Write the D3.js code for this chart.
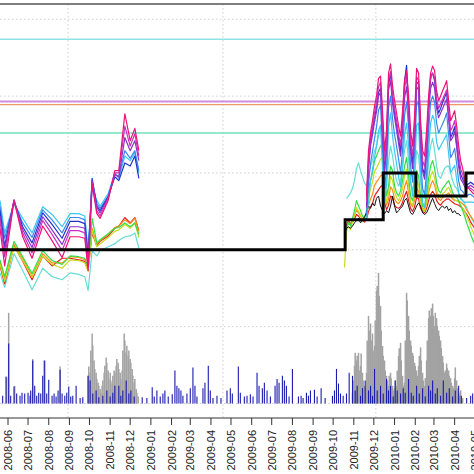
<!DOCTYPE html>
<html><head><meta charset="utf-8">
<script src="https://cdn.jsdelivr.net/npm/d3@7"></script>
<style>html,body{margin:0;padding:0;background:#fff;}svg{display:block;}</style>
</head><body>
<svg id="chart" width="474" height="474"></svg>
<script>
// ---------------- DATA ----------------
const startDay = "2008-05-20";           // day 0 for the precipitation bars
const monthTicks = ["2008-06","2008-07","2008-08","2008-09","2008-10","2008-11","2008-12",
  "2009-01","2009-02","2009-03","2009-04","2009-05","2009-06","2009-07","2009-08","2009-09",
  "2009-10","2009-11","2009-12","2010-01","2010-02","2010-03","2010-04","2010-05"];
const hGridVals = [0,100,200,300,400,500];
const vGridDates = ["2008-08-30","2009-04-19","2009-12-04"];

// constant reference levels
const refVals = [474, 393, 389, 352];

// observed step series
const stepDates = ["2008-05-01","2009-10-19","2009-12-15","2010-02-02","2010-04-18","2010-05-31"];
const stepVals  = [200, 239, 300, 270, 300, 300];

// period 1 (2008) sample dates
const dates1 = ["2008-05-20","2008-05-27","2008-06-10","2008-06-23","2008-07-07","2008-07-23",
  "2008-08-06","2008-08-21","2008-09-02","2008-09-15","2008-09-24","2008-09-29","2008-10-05",
  "2008-10-12","2008-10-17","2008-10-29","2008-11-08","2008-11-14","2008-11-23","2008-12-01",
  "2008-12-08","2008-12-14"];
// period 2 (2009-2010): every 3 days from this date, 67 samples
const dates2Start = "2009-10-15";
const dates2Step = 3;
const dates2Count = 67;

// --- period 1 values
const cyanP1    = [264,222,260,241,222,256,246,230,247,247,244,199,283,264,257,273,300,293,322,316,326,300];
const skyP1     = [257,215,261,235,216,252,239,222,242,242,239,194,290,260,254,270,298,295,329,319,329,303];
const blueP1    = [251,205,264,230,209,248,233,215,237,237,234,189,293,257,251,269,295,290,313,309,322,293];
const purpleP1  = [244,199,265,226,203,243,226,207,230,230,228,183,290,255,248,268,298,295,346,329,342,316];
const violetP1  = [238,191,265,222,196,238,220,199,225,225,222,178,287,251,244,267,300,300,361,335,351,322];
const magentaP1 = [228,179,264,217,189,231,212,190,217,217,215,173,285,247,241,264,303,303,377,342,358,329];
const greenP1   = [187,165,211,191,169,199,186,181,192,191,189,178,241,209,213,221,228,229,235,230,235,220];
const yellowP1  = [181,159,204,186,164,192,181,176,187,186,183,172,225,204,208,216,224,226,233,228,235,216];
const orangeP1  = [185,161,207,189,165,195,183,183,191,190,187,176,228,207,212,220,229,231,239,234,241,224];
const redP1     = [179,156,205,185,161,192,179,189,189,187,185,173,222,205,211,218,228,231,242,235,242,225];
const tealP1    = [170,151,195,173,148,176,165,161,170,168,165,147,199,192,199,204,208,212,217,218,222,202];

// --- period 2 values
const N12 = [null,null,null,null,null,null,null,null,null,null,null,null];
const magentaP2 = N12.concat([270,329,352,368,387,400,423,426,381,329,355,430,442,413,394,378,361,348,381,420,433,400,355,335,374,436,430,368,329,322,355,400,430,439,433,407,394,400,407,413,420,394,368,374,381,361,335,316,306,293,283,280,277,274,272]);
const violetP2  = N12.concat([262,318,345,360,378,392,412,418,368,316,345,420,432,402,384,368,350,336,370,410,425,390,342,322,362,425,420,356,316,308,342,390,422,430,424,396,384,390,396,402,408,382,355,360,368,348,322,305,298,287,281,281,280,278,276]);
const purpleP2  = N12.concat([255,305,335,350,366,380,400,405,352,300,332,408,420,390,372,356,338,322,356,398,412,378,328,306,348,412,408,342,302,292,328,378,410,418,410,384,372,378,384,390,396,370,342,346,354,334,308,292,288,282,280,282,284,282,280]);
const blueP2    = N12.concat([258,310,340,356,372,385,405,410,360,305,336,415,430,396,378,362,345,328,362,420,440,385,335,312,352,418,416,350,306,298,330,385,425,430,420,390,378,384,392,398,405,376,346,352,360,338,314,298,292,286,284,286,288,286,284]);
const skyP2     = N12.concat([245,285,312,328,345,360,382,388,330,280,305,385,400,370,350,335,318,300,330,375,392,360,310,288,325,390,392,320,280,272,300,355,392,400,392,365,352,358,364,370,378,350,320,325,332,312,290,278,276,272,270,272,272,270,268]);
const cyanP2    = N12.concat([240,262,290,305,320,335,355,362,305,262,285,360,378,348,328,312,295,282,305,350,365,335,290,270,300,362,365,298,262,255,280,330,365,375,368,340,330,335,340,345,350,325,300,305,310,292,275,266,264,262,262,262,262,262,261]);
const greenP2   = [null,222,228,235,231,241,251,264,257,251,244,241,251,277,290,300,316,322,329,335,338,290,270,283,309,303,283,274,270,277,290,309,320,296,270,264,277,303,296,270,257,255,270,293,309,316,306,287,277,274,280,283,287,290,283,274,270,268,264,257,251,244,235,228,220,213,208];
const yellowP2  = [null,177,224,230,226,236,245,255,250,245,240,238,246,268,280,288,302,306,312,318,320,278,262,274,296,290,275,268,264,270,280,296,305,284,262,258,270,290,285,262,252,250,262,282,296,302,294,278,270,268,273,275,279,281,276,268,265,264,262,258,254,250,244,238,231,224,218];
const orangeP2  = [null,226,230,236,232,238,244,252,248,244,240,239,244,258,266,272,284,288,292,296,298,270,258,266,282,278,266,262,260,264,270,282,290,274,260,256,264,280,276,260,254,252,260,274,284,290,284,272,266,264,268,270,272,274,270,266,264,264,263,262,260,257,252,248,244,240,236];
const redP2     = [null,228,232,238,234,236,240,246,244,240,238,236,240,250,256,260,270,274,278,282,284,262,252,258,270,268,258,255,254,256,262,270,276,264,254,250,256,268,266,254,250,248,254,264,272,276,272,264,260,258,262,264,266,266,264,262,260,259,258,256,254,250,246,242,236,232,228];
const tealP2    = [null,null,267,270,274,280,290,306,313,303,295,287,283,296,309,316,329,335,348,358,342,296,283,316,335,322,303,290,283,290,309,329,342,316,287,277,293,329,322,290,270,267,283,316,335,345,329,309,296,293,300,306,309,309,300,290,283,280,274,269,264,260,255,248,243,238,233];
const blackP2   = [null,222,228,230,228,231,235,238,241,235,238,243,248,257,254,261,257,267,270,257,251,247,251,248,257,270,257,248,251,254,257,264,267,257,248,246,251,257,261,257,248,246,248,254,261,267,260,254,251,255,257,254,257,251,254,248,251,247,247,244,null,null,null,null,null,null,null];

// --- daily precipitation bars: [day since startDay, amount]
const grayBars = [[10,34],[13,118],[22,23],[49,58],[66,56],[90,48],
 [132,36],[133,48],[135,40],[136,69],[138,91],[139,75],[141,56],[142,45],[144,40],[145,32],[147,27],[148,23],[150,19],[151,14],[153,23],[154,30],[156,40],[157,49],[159,60],[160,53],[162,43],[163,32],[165,40],[166,30],[168,26],[169,36],[171,43],[172,40],[174,49],[175,58],[177,53],[178,45],[180,40],[181,32],[183,43],[184,69],[186,91],[187,82],[189,66],[190,75],[192,62],[193,69],[195,58],[196,53],[198,45],[199,36],[201,27],[202,32],[204,19],[205,14],[207,9],
 [528,14],[529,30],[531,49],[532,66],[534,56],[535,62],[537,66],[538,43],[540,49],[541,65],[543,40],[544,30],[546,23],[547,20],[549,40],[550,82],[552,114],[553,95],[555,104],[556,82],[558,91],[559,69],[561,75],[562,108],[564,147],[565,153],[567,170],[568,140],[570,127],[571,95],[573,75],[574,62],[576,56],[577,43],[579,36],[580,30],[582,23],[583,36],[585,40],[586,33],[588,23],[589,17],[591,20],[592,30],[594,23],[595,43],[597,62],[598,72],[600,79],[601,56],[603,36],[604,23],[606,27],[607,82],[609,144],[610,134],[612,114],[613,95],[615,82],[616,75],[618,66],[619,62],[621,53],[622,49],[624,43],[625,36],[627,49],[628,62],[630,73],[631,56],[633,40],[634,30],[636,23],[637,33],[639,56],[640,82],[642,111],[643,121],[645,114],[646,124],[648,130],[649,114],[651,101],[652,118],[654,111],[655,101],[657,95],[658,88],[660,82],[661,72],[663,62],[664,53],[666,40],[667,43],[669,52],[670,46],[672,43],[673,36],[675,33],[676,27],[678,23],[679,20],[681,33],[682,47],[684,30],[685,20],[687,14],[688,10],[690,17],[691,9],[693,7]];
const blueBars = [[4,10],[9,35],[13,78],[16,10],[21,22],[25,13],[30,10],[33,14],[37,13],[42,14],[45,10],[46,17],[49,56],[52,23],[55,10],[58,14],[61,13],[64,36],[67,56],[70,13],[73,31],[78,10],[81,13],[84,9],[87,17],[90,44],[93,13],[97,10],[100,14],[103,22],[106,9],[109,10],[114,23],[120,7],[124,8],[132,36],[135,30],[139,13],[144,17],[148,8],[154,10],[160,17],[165,9],[169,14],[172,23],[178,23],[181,10],[184,17],[189,30],[193,13],[196,17],[201,9],[213,8],[220,7],[228,21],[231,9],[235,17],
 [240,9],[244,13],[247,17],[252,9],[258,12],[262,43],[265,23],[268,20],[271,17],[274,10],[280,13],[285,20],[289,47],[292,23],[295,9],[304,20],[307,27],[312,49],[315,17],[319,7],[325,10],[331,7],[340,17],[345,20],[348,13],[357,48],[360,14],[366,9],[370,10],[375,12],[379,9],[385,40],[388,23],[393,20],[396,27],[400,17],[405,9],[412,23],[415,32],[418,27],[423,36],[426,30],[429,23],[433,9],[438,45],[447,9],[451,10],[454,7],[459,14],[462,10],[465,17],[471,18],[475,9],[481,20],[487,7],[498,10],[501,17],[504,45],[507,26],[510,13],
 [514,10],[519,13],[523,40],[528,36],[532,17],[535,23],[540,10],[543,20],[547,30],[552,17],[555,23],[558,10],[561,45],[565,17],[570,23],[574,13],[579,32],[582,17],[585,23],[589,9],[592,30],[595,17],[600,13],[604,20],[607,14],[612,32],[616,14],[619,10],[624,23],[628,13],[633,20],[637,9],[642,23],[645,17],[648,30],[652,13],[655,20],[660,10],[664,30],[669,14],[673,20],[678,9],[682,17],[687,23],[691,10],[699,7],[705,10],[708,13]];

// ---------------- DRAWING ----------------
const parse = d3.utcParse("%Y-%m-%d");
const svg = d3.select("#chart");
const x = d3.scaleUtc().domain([parse("2008-05-20"), parse("2010-04-30")]).range([0, 474]);
const y = d3.scaleLinear().domain([0, 500]).range([403.5, 19.25]);
const day0 = parse(startDay);
const dayDate = d => d3.utcDay.offset(day0, d);
const d1 = dates1.map(parse);
const d2 = d3.range(dates2Count).map(i => d3.utcDay.offset(parse(dates2Start), i * dates2Step));

const plot = svg.append("g");

// grid
plot.selectAll(".hg").data(hGridVals).join("line")
  .attr("x1", 0).attr("x2", 474).attr("y1", d => y(d)).attr("y2", d => y(d))
  .attr("stroke", "#cfcfcf").attr("stroke-width", 1).attr("stroke-dasharray", "1.5,2.5");
plot.selectAll(".vg").data(vGridDates).join("line")
  .attr("x1", d => x(parse(d))).attr("x2", d => x(parse(d))).attr("y1", 4).attr("y2", 418)
  .attr("stroke", "#cfcfcf").attr("stroke-width", 1).attr("stroke-dasharray", "1.5,2.5");

// precipitation bars
plot.selectAll(".gb").data(grayBars).join("line")
  .attr("x1", d => x(dayDate(d[0]))).attr("x2", d => x(dayDate(d[0])))
  .attr("y1", y(0)).attr("y2", d => y(d[1]))
  .attr("stroke", "#a3a3a3").attr("stroke-width", 1.5);
plot.selectAll(".bb").data(blueBars).join("line")
  .attr("x1", d => x(dayDate(d[0]))).attr("x2", d => x(dayDate(d[0])))
  .attr("y1", y(0)).attr("y2", d => y(d[1]))
  .attr("stroke", "#1a1ab0").attr("stroke-width", 1.1);

// reference levels
const refStyles = [{c:"#8fe3e3", w:1.6},{c:"#cf8ddc", w:2.2},{c:"#eb9a66", w:1.2},{c:"#6fe2bd", w:1.6}];
plot.selectAll(".ref").data(refVals).join("line")
  .attr("x1", 0).attr("x2", 474).attr("y1", d => y(d)).attr("y2", d => y(d))
  .attr("stroke", (d,i) => refStyles[i].c).attr("stroke-width", (d,i) => refStyles[i].w);

// series
const series = [
  {p1: tealP1,    p2: tealP2,    c: "#66ddd5"},
  {p1: redP1,     p2: redP2,     c: "#e02020"},
  {p1: orangeP1,  p2: orangeP2,  c: "#ff8c1a"},
  {p1: yellowP1,  p2: yellowP2,  c: "#c8dc22"},
  {p1: greenP1,   p2: greenP2,   c: "#33dd44"},
  {p1: null,      p2: blackP2,   c: "#111111"},
  {p1: cyanP1,    p2: cyanP2,    c: "#3cc8f0"},
  {p1: skyP1,     p2: skyP2,     c: "#3a88ee"},
  {p1: blueP1,    p2: blueP2,    c: "#2233cc"},
  {p1: purpleP1,  p2: purpleP2,  c: "#8833cc"},
  {p1: violetP1,  p2: violetP2,  c: "#cc33bb"},
  {p1: magentaP1, p2: magentaP2, c: "#ee1177"}
];
const line = d3.line().defined(d => d[1] != null).x(d => x(d[0])).y(d => y(d[1]));
series.forEach(s => {
  if (s.p1) plot.append("path").attr("d", line(d1.map((d,i) => [d, s.p1[i]])))
    .attr("fill","none").attr("stroke", s.c).attr("stroke-width", 1.2).attr("stroke-linejoin","round");
  plot.append("path").attr("d", line(d2.map((d,i) => [d, s.p2[i]])))
    .attr("fill","none").attr("stroke", s.c).attr("stroke-width", s.c === "#111111" ? 1 : 1.2).attr("stroke-linejoin","round");
});

// step line
const stepLine = d3.line().curve(d3.curveStepAfter).x(d => x(d[0])).y(d => y(d[1]));
plot.append("path").attr("d", stepLine(stepDates.map((d,i) => [parse(d), stepVals[i]])))
  .attr("fill","none").attr("stroke","#000").attr("stroke-width", 3);

// frame: top border & bottom axis
svg.append("line").attr("x1",0).attr("x2",474).attr("y1",4).attr("y2",4).attr("stroke","#555").attr("stroke-width",1.5);
svg.append("line").attr("x1",0).attr("x2",474).attr("y1",418).attr("y2",418).attr("stroke","#333").attr("stroke-width",1);

const tickDates = monthTicks.map(m => parse(m + "-01"));
svg.selectAll(".tk").data(tickDates).join("line")
  .attr("x1", d => x(d)).attr("x2", d => x(d)).attr("y1", 418).attr("y2", 425)
  .attr("stroke","#333").attr("stroke-width",1);
svg.selectAll(".tl").data(monthTicks).join("text")
  .attr("transform", (d,i) => `translate(${x(tickDates[i])},430) rotate(-90)`)
  .attr("text-anchor","end").attr("dominant-baseline","central")
  .attr("font-family","Liberation Sans, Arial, sans-serif").attr("font-size", 11)
  .attr("fill","#222").text(d => d);
</script>
</body></html>
